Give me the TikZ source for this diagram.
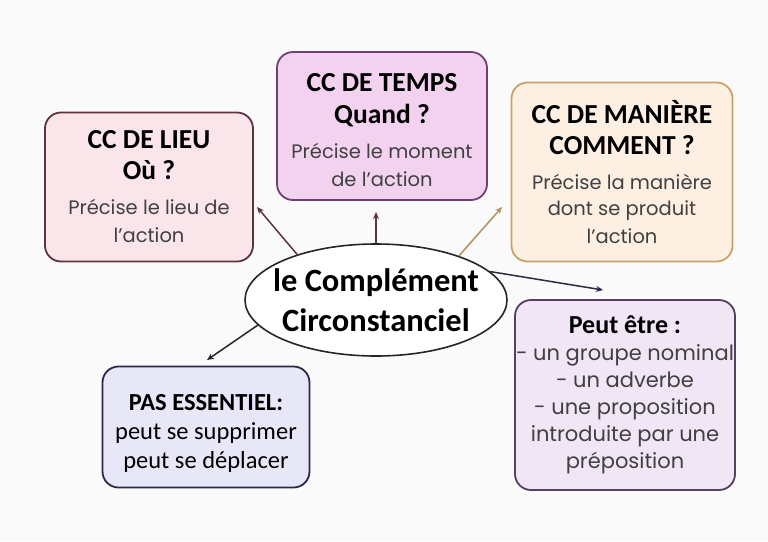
\documentclass[tikz,border=0pt]{standalone}
\usepackage{fontspec}
\setmainfont{Carlito}
\newfontfamily\gothic{Poppins}
\usetikzlibrary{arrows.meta,shapes.geometric}

\definecolor{bgcol}{RGB}{250,250,250}
\definecolor{lieuFill}{RGB}{250,229,234}
\definecolor{lieuLine}{RGB}{92,52,62}
\definecolor{tempsFill}{RGB}{243,210,240}
\definecolor{tempsLine}{RGB}{112,64,112}
\definecolor{maniereFill}{RGB}{253,239,226}
\definecolor{maniereLine}{RGB}{200,162,104}
\definecolor{pasFill}{RGB}{231,231,248}
\definecolor{pasLine}{RGB}{42,42,72}
\definecolor{peutFill}{RGB}{241,230,246}
\definecolor{peutLine}{RGB}{84,64,96}
\definecolor{descCol}{RGB}{64,64,64}

\newcommand{\ttl}[1]{{\bfseries\fontsize{27.5}{28}\selectfont #1}}
\newcommand{\dsc}[1]{{\color{descCol}\gothic\fontsize{19.5}{28}\selectfont #1}}
\newcommand{\lst}[1]{{\color{descCol}\gothic\fontsize{21}{27}\selectfont #1}}

\tikzset{
  box/.style={rectangle, rounded corners=16pt, line width=1.8pt, align=center,
    inner sep=0pt, font=\fontsize{16}{28}\selectfont},
  conn/.style={line width=1.5pt, -{Stealth[length=7pt,width=6pt]}},
}

\begin{document}
\begin{tikzpicture}[x=1pt,y=-1pt]
\fill[bgcol] (0,0) rectangle (768,541);
\useasboundingbox (0,0) rectangle (768,541);

% the five boxes
\node[box, draw=lieuLine, fill=lieuFill, minimum width=208pt, minimum height=149pt]
  (lieu) at (149,187) {\ttl{CC DE LIEU}\\[3pt]\ttl{Où ?}\\[7pt]\dsc{Précise le lieu de}\\\dsc{l’action}};
\node[box, draw=tempsLine, fill=tempsFill, minimum width=210pt, minimum height=148pt]
  (temps) at (382,126) {\rule{0pt}{26pt}\ttl{CC DE TEMPS}\\[4pt]\ttl{Quand ?}\\[7pt]\dsc{Précise le moment}\\\dsc{de l’action}};
\node[box, draw=maniereLine, fill=maniereFill, minimum width=221pt, minimum height=179pt]
  (maniere) at (622,172) {\ttl{CC DE MANIÈRE}\\[3pt]\ttl{COMMENT ?}\\[7pt]\dsc{Précise la manière}\\[-2pt]\dsc{dont se produit}\\\dsc{l’action}};
\node[box, draw=pasLine, fill=pasFill, minimum width=207pt, minimum height=121pt,
  font=\fontsize{24.5}{29}\selectfont]
  (pas) at (206,427) {\rule{0pt}{28pt}\textbf{PAS ESSENTIEL:}\\peut se supprimer\\peut se déplacer};
\node[box, draw=peutLine, fill=peutFill, minimum width=220pt, minimum height=190pt]
  (peut) at (625,395) {{\bfseries\fontsize{26}{27}\selectfont Peut être :}\\[-1pt]\lst{- un groupe nominal}\\[-1pt]\lst{- un adverbe}\\[-1pt]\lst{- une proposition}\\[-1pt]\lst{introduite par une}\\[-1pt]\lst{préposition}};

% centre
\node[ellipse, draw=black!85, fill=white, line width=1.6pt, minimum width=262pt,
  minimum height=112pt, align=center, inner xsep=-12pt, inner ysep=0pt,
  font=\bfseries\fontsize{32.5}{40}\selectfont]
  (cc) at (376,300) {le Complément\\Circonstanciel};

% arrow tips
\coordinate (tLieu) at (257,207);
\coordinate (tTemps) at (376,212);
\coordinate (tManiere) at (502,207);
\coordinate (tPeut) at (603,290);
\coordinate (tPas) at (207,360);

\draw[conn, lieuLine] (cc.150) -- (tLieu);
\draw[conn, lieuLine] (cc.north) -- (tTemps);
\draw[conn, maniereLine!90!black] (cc.28) -- (tManiere);
\draw[conn, pasLine] (cc.14) -- (tPeut);
\draw[conn, black!85] (cc.192) -- (tPas);
\end{tikzpicture}
\end{document}
